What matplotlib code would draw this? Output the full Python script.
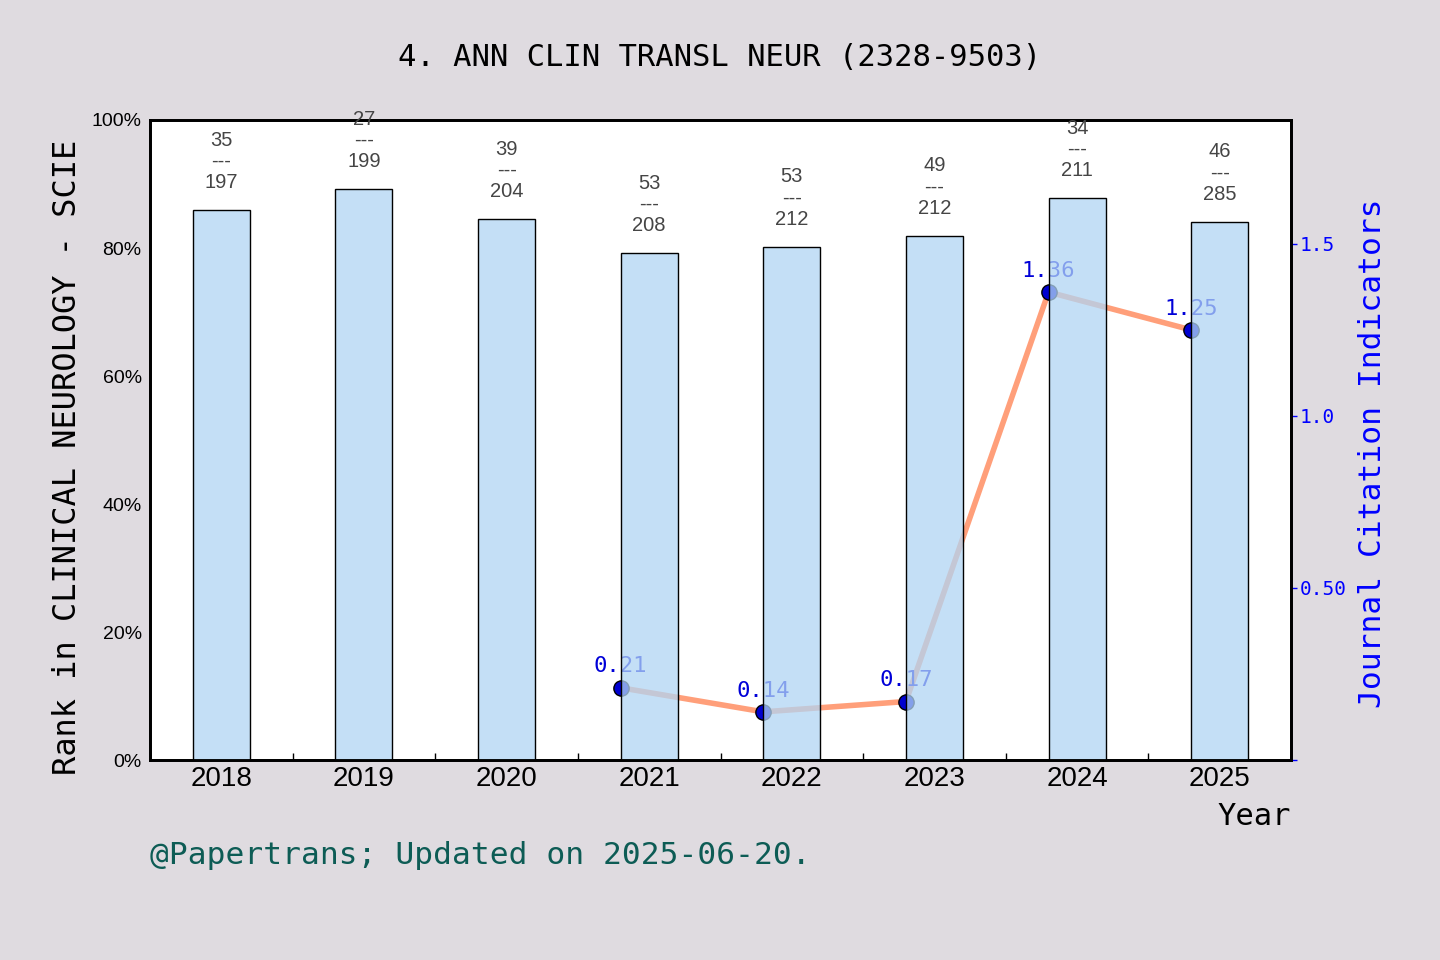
"""Rank and JCI chart for ANN CLIN TRANSL NEUR."""

import matplotlib

matplotlib.use("Agg")

import matplotlib.pyplot as plt
from matplotlib.ticker import FixedFormatter, FixedLocator, PercentFormatter

years = ["2018", "2019", "2020", "2021", "2022", "2023", "2024", "2025"]
rank = [35, 27, 39, 53, 53, 49, 34, 46]
total = [197, 199, 204, 208, 212, 212, 211, 285]
percentile = [85.9, 89.2, 84.5, 79.2, 80.2, 81.9, 87.8, 84.1]
jci_index = [3, 4, 5, 6, 7]
jci = [0.21, 0.14, 0.17, 1.36, 1.25]
jci_ticks = [0, 0.5, 1.0, 1.5]
jci_tick_labels = ["", "0.50", "1.0", "1.5"]

background = "#dfdbe0"
mono = "DejaVu Sans Mono"
sans = "Liberation Sans"
bar_width = 0.4

figure = plt.figure(figsize=(14.4, 9.6), dpi=100, facecolor=background)

axis = figure.add_axes([0.1042, 0.2083, 0.7923, 0.6667])
line_axis = axis.twinx()

# bars sit above the line, so the bar axis goes on top
axis.set_zorder(2)
line_axis.set_zorder(1)
axis.patch.set_visible(False)
line_axis.patch.set_visible(True)
line_axis.patch.set_facecolor("white")

positions = list(range(len(years)))

axis.bar(
    positions,
    percentile,
    width=bar_width,
    facecolor=(0.69, 0.835, 0.955, 0.75),
    edgecolor="black",
    linewidth=1,
)

for x, value, r, n in zip(positions, percentile, rank, total):
    axis.annotate(
        f"{r}\n---\n{n}",
        xy=(x, value),
        xytext=(0, 13),
        textcoords="offset points",
        ha="center",
        va="bottom",
        fontsize=14.5,
        family=sans,
        color="#454545",
        linespacing=1.15,
        annotation_clip=False,
        clip_on=False,
    )

# the JCI points sit on the left edge of each bar
jci_x = [i - bar_width / 2 for i in jci_index]

line_axis.plot(
    jci_x,
    jci,
    color="#ff9f7a",
    linewidth=4,
    marker="o",
    markersize=11,
    markerfacecolor="#0000d0",
    markeredgecolor="black",
    markeredgewidth=1,
)

for x, value in zip(jci_x, jci):
    line_axis.annotate(
        f"{value:.2f}",
        xy=(x, value),
        xytext=(0, 11),
        textcoords="offset points",
        ha="center",
        va="baseline",
        fontsize=16,
        family=mono,
        color="#0000d8",
    )

axis.set_xlim(-0.5, 7.5)
axis.set_ylim(0, 100)
line_axis.set_ylim(0, 1.86)

axis.yaxis.set_major_locator(FixedLocator([0, 20, 40, 60, 80, 100]))
axis.yaxis.set_major_formatter(PercentFormatter(decimals=0))
axis.tick_params(axis="y", length=0, pad=6, labelsize=14)
for label in axis.get_yticklabels():
    label.set_family(sans)

axis.set_xticks(positions)
axis.set_xticklabels(years, fontsize=20, family=sans)
axis.set_xticks([p + 0.5 for p in positions[:-1]], minor=True)
axis.tick_params(axis="x", which="major", length=0, pad=4)
axis.tick_params(axis="x", which="minor", direction="in", length=5, width=1)

line_axis.yaxis.set_major_locator(FixedLocator(jci_ticks))
line_axis.yaxis.set_major_formatter(FixedFormatter(jci_tick_labels))
line_axis.tick_params(
    axis="y",
    colors="blue",
    length=4,
    width=1,
    pad=2,
    labelsize=14,
)
for label in line_axis.get_yticklabels():
    label.set_family(mono)

for spine in list(axis.spines.values()) + list(line_axis.spines.values()):
    spine.set_linewidth(2)
    spine.set_color("black")

axis.set_ylabel(
    "Rank in CLINICAL NEUROLOGY - SCIE",
    fontsize=23,
    family=mono,
)
axis.yaxis.label.set_verticalalignment("center")
axis.yaxis.set_label_coords(-0.0727, 0.473)

line_axis.set_ylabel(
    "Journal Citation Indicators",
    fontsize=22.5,
    family=mono,
    color="blue",
)
line_axis.yaxis.label.set_verticalalignment("center")
line_axis.yaxis.set_label_coords(1.0719, 0.48)

figure.text(
    0.5,
    0.94,
    "4. ANN CLIN TRANSL NEUR (2328-9503)",
    ha="center",
    va="center",
    fontsize=22,
    family=mono,
)

figure.text(
    0.8965,
    0.149,
    "Year",
    ha="right",
    va="center",
    fontsize=22,
    family=mono,
)

figure.text(
    0.1042,
    0.109,
    "@Papertrans; Updated on 2025-06-20.",
    ha="left",
    va="center",
    fontsize=22.5,
    family=mono,
    color="#0d5c55",
)

figure.savefig("out.png", dpi=100, facecolor=background)
plt.close(figure)
